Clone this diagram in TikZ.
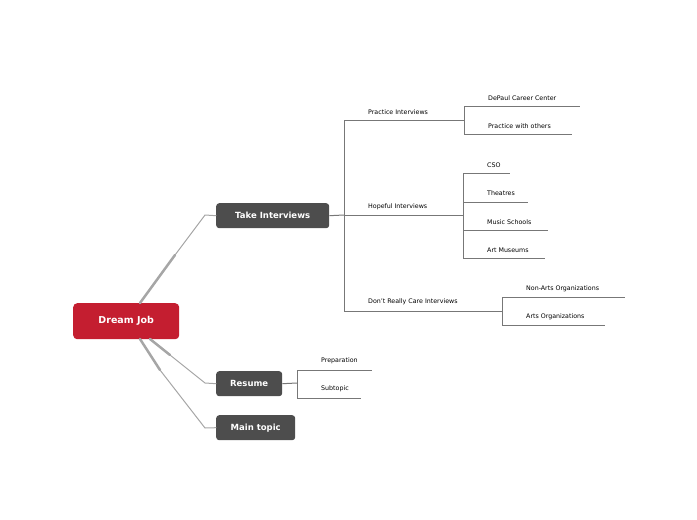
\documentclass[tikz,border=0pt]{standalone}
\usepackage{fontspec}
\setmainfont{DejaVu Sans}
\definecolor{redc}{HTML}{C41E30}
\definecolor{darkc}{HTML}{4D4D4D}
\definecolor{linec}{HTML}{777777}
\begin{document}
\begin{tikzpicture}[x=1pt,y=-1pt,
  topic/.style={fill=darkc,rounded corners=3pt,text=white,font=\bfseries\fontsize{8.5}{10}\selectfont,minimum height=25pt,inner xsep=0pt,anchor=north west},
  lbl/.style={font=\fontsize{6.3}{7}\selectfont,anchor=west,inner sep=0pt},
  br/.style={draw=linec,line width=0.7pt},
  main/.style={draw=black!35,line cap=round}]
\useasboundingbox (0,0) rectangle (697,520);
% central
\node[fill=redc,rounded corners=4pt,text=white,font=\bfseries\fontsize{9.5}{11}\selectfont,minimum width=106pt,minimum height=36pt,anchor=north west] (dj) at (73,303) {Dream Job};
\node[topic,minimum width=113pt] (ti) at (216,203) {Take Interviews};
\node[topic,minimum width=66pt] (re) at (216,371) {Resume};
\node[topic,minimum width=79pt] (mt) at (216,415) {Main topic};
\coordinate (c1) at (140,303); \coordinate (c2) at (140,339); \coordinate (c3) at (150,339);
\draw[main,line width=2.5pt] (c1) -- (175,255);
\draw[main,line width=1pt] (175,255) -- (205,215) -- (ti.west);
\draw[main,line width=2.5pt] (c3) -- (170,355);
\draw[main,line width=1pt] (170,355) -- (205,383) -- (re.west);
\draw[main,line width=2.5pt] (c2) -- (160,370);
\draw[main,line width=1pt] (160,370) -- (205,428) -- (mt.west);
% take interviews branch
\coordinate (tj) at (344,215);
\draw[br,line width=1pt] (ti.east) -- (tj);
\draw[br] (344,120) -- (344,311);
\node[lbl] (pi) at (368,112) {Practice Interviews};
\node[lbl] (hi) at (368,207) {Hopeful Interviews};
\node[lbl] (dc) at (368,302) {Don't Really Care Interviews};
\draw[br] (344,120) -- (464,120);
\draw[br] (344,215) -- (463,215);
\draw[br] (344,311) -- (502,311);
% practice
\draw[br] (464,106) -- (464,134);
\node[lbl] (dp) at (488,98) {DePaul Career Center};
\node[lbl] (pw) at (488,126) {Practice with others};
\draw[br] (464,106) -- (580,106);
\draw[br] (464,134) -- (572,134);
% hopeful
\draw[br] (463,173) -- (463,258);
\node[lbl] (cso) at (487,165) {CSO};
\node[lbl] (th) at (487,193) {Theatres};
\node[lbl] (ms) at (487,222) {Music Schools};
\node[lbl] (am) at (487,250) {Art Museums};
\draw[br] (463,173) -- (510,173);
\draw[br] (463,202) -- (528,202);
\draw[br] (463,230) -- (548,230);
\draw[br] (463,258) -- (545,258);
% don't care
\draw[br] (502,297) -- (502,325);
\node[lbl] (na) at (526,289) {Non-Arts Organizations};
\node[lbl] (ao) at (526,317) {Arts Organizations};
\draw[br] (502,297) -- (625,297);
\draw[br] (502,325) -- (605,325);
% resume
\draw[br,line width=1pt] (re.east) -- (297,383);
\draw[br] (297,370) -- (297,398);
\node[lbl] (pr) at (321,361) {Preparation};
\node[lbl] (st) at (321,389) {Subtopic};
\draw[br] (297,370) -- (372,370);
\draw[br] (297,398) -- (361,398);
\end{tikzpicture}
\end{document}
